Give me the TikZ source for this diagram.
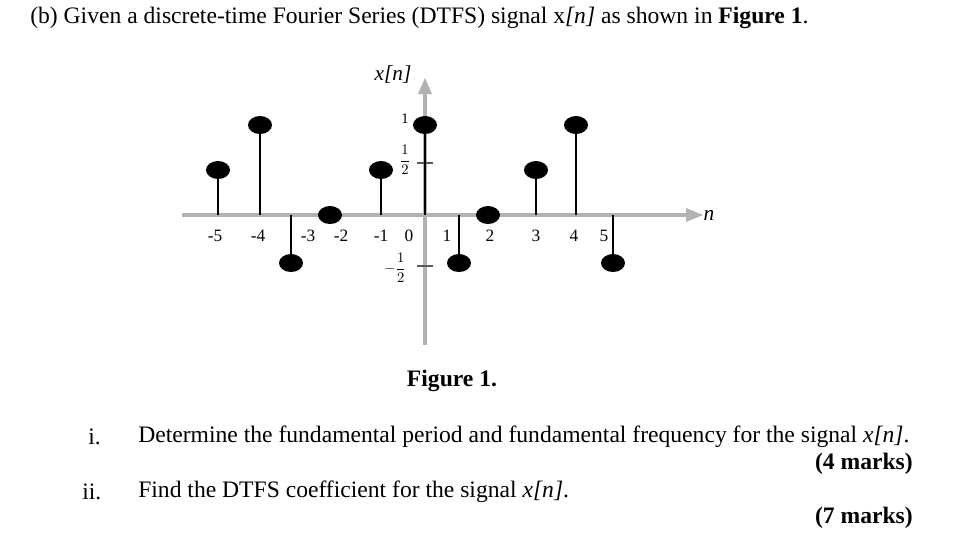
\documentclass[tikz,border=0pt]{standalone}
\usepackage{amsmath}
\usepackage{fontspec}
\setmainfont{Liberation Serif}
\usetikzlibrary{shapes.geometric}
\begin{document}
\begin{tikzpicture}[x=0.75pt,y=-0.75pt,
  txt/.style={font=\fontsize{17.7}{21}\selectfont, inner sep=0pt},
  btxt/.style={font=\bfseries\fontsize{17.7}{21}\selectfont, inner sep=0pt},
  tick/.style={font=\fontsize{13}{15}\selectfont, inner sep=0pt},
  frac/.style={font=\fontsize{11}{13}\selectfont, inner sep=0pt},
  ax/.style={draw=gray!60, line width=3pt},
  stem/.style={line width=2.2pt},
  dot/.style={fill=black, ellipse, minimum width=18pt, minimum height=13.5pt, inner sep=0pt}]
\useasboundingbox (0,0) rectangle (954,537);
\node[txt, anchor=west] (t) at (30,18) {(b) Given a discrete-time Fourier Series (DTFS) signal x\textit{[n]} as shown in \textbf{Figure 1}.};
% axes
\coordinate (hl) at (182,215); \coordinate (hr) at (700,215);
\coordinate (vb) at (425,345); \coordinate (vt) at (425,80);
\draw[ax] (hl) -- (690,215);
\fill[gray!60] (703,215) -- (686,208) -- (686,222) -- cycle;
\draw[ax] (vb) -- (425,90);
\fill[gray!60] (425,78) -- (418,94) -- (432,94) -- cycle;
\draw[gray!70!black, line width=2pt] (417,163) -- (433,163);
\draw[gray!70!black, line width=2pt] (417,266) -- (433,266);
\node[font=\itshape\fontsize{16}{18}\selectfont, inner sep=0pt] (xl) at (393,75) {x[n]};
\node[font=\itshape\fontsize{16}{18}\selectfont, inner sep=0pt] (nl) at (709,215) {n};
\node[frac] (f1) at (405,119) {1};
\node[frac] (fh) at (405,160) {$\dfrac{1}{2}$};
\node[frac] (fm) at (395,268) {$-\dfrac{1}{2}$};
% stems
\foreach \x/\y in {218/170, 260/125, 291/263, 381/170, 425/125, 459/263, 536/170, 576/125, 613/263}{
  \draw[stem] (\x,215) -- (\x,\y);
  \node[dot] at (\x,\y) {};
}
\node[dot] at (330,215) {};
\node[dot] at (488,215) {};
% tick labels
\foreach \x/\l in {215/-5, 258/-4, 308/-3, 341/-2, 381/-1, 409/0, 447/1, 490/2, 536/3, 574/4, 604/5}{
  \node[tick] at (\x,236) {\l};
}
\node[btxt] (fig) at (452,381) {Figure 1.};
\node[txt, anchor=west] (i) at (88,437) {i.};
\node[txt, anchor=west] (q1) at (138,437) {Determine the fundamental period and fundamental frequency for the signal \textit{x[n]}.};
\node[btxt, anchor=east] (m1) at (913,464) {(4 marks)};
\node[txt, anchor=west] (ii) at (82,492) {ii.};
\node[txt, anchor=west] (q2) at (138,492) {Find the DTFS coefficient for the signal \textit{x[n]}.};
\node[btxt, anchor=east] (m2) at (913,518) {(7 marks)};
\end{tikzpicture}
\end{document}
